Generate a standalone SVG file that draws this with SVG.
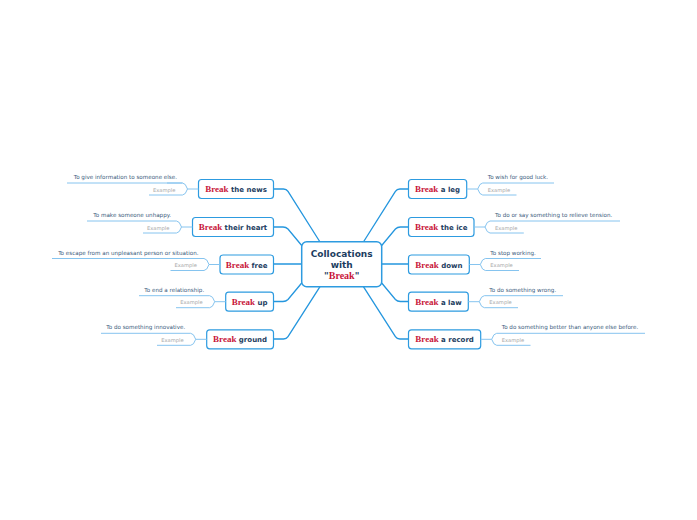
<svg xmlns="http://www.w3.org/2000/svg" width="697" height="520" viewBox="0 0 697 520">
<style>
.bg{fill:#ffffff}
.node{fill:#ffffff;stroke:#2d9be0;stroke-width:1.2}
.center{fill:#ffffff;stroke:#2d9be0;stroke-width:1.5}
.conn{fill:none;stroke:#2496de;stroke-width:1.3;stroke-linecap:round}
.leaf{fill:none;stroke:#86c4ef;stroke-width:1}
.lbl{font-family:"DejaVu Sans",Verdana,sans-serif;font-weight:bold;font-size:7px;fill:#1c3d5f}
.brk{font-family:"Liberation Serif","Times New Roman",serif;font-weight:bold;font-size:9px;fill:#c8163a}
.ctr{font-family:"DejaVu Sans",Verdana,sans-serif;font-weight:bold;font-size:9px;fill:#1c3d5f}
.cbrk{font-family:"Liberation Serif","Times New Roman",serif;font-weight:bold;font-size:10px;fill:#c8163a}
.desc{font-family:"DejaVu Sans",Verdana,sans-serif;font-size:5.6px;fill:#3a5a7c}
.ex{font-family:"DejaVu Sans",Verdana,sans-serif;font-size:5.2px;fill:#a8a8a8}
</style>
<rect class="bg" x="0" y="0" width="697" height="520"/>

<g id="connectors">
<path class="conn" d="M320,242 L288,191.3 Q286.5,189 283.5,189 H273.5"/>
<path class="conn" d="M301.7,245.5 L288,229 Q286,227 283,227 H273.5"/>
<path class="conn" d="M301.7,264 H273.5"/>
<path class="conn" d="M301.7,283 L288,299.5 Q286,301.5 283,301.5 H273.5"/>
<path class="conn" d="M320,286.7 L288,336.7 Q286.5,339 283.5,339 H273.5"/>
<path class="conn" d="M363.4,242 L395.4,191.3 Q396.9,189 399.9,189 H408.5"/>
<path class="conn" d="M381.7,245.5 L395.4,229 Q397.4,227 400.4,227 H408.5"/>
<path class="conn" d="M381.7,264 H408.5"/>
<path class="conn" d="M381.7,283 L395.4,299.5 Q397.4,301.5 400.4,301.5 H408.5"/>
<path class="conn" d="M363.4,286.7 L395.4,336.7 Q396.9,339 399.9,339 H408.5"/>
</g>

<g id="center">
<rect class="center" x="301.7" y="241.7" width="80" height="45" rx="5"/>
<text class="ctr" x="341.7" y="256.5" text-anchor="middle">Collocations</text>
<text class="ctr" x="341.7" y="267.5" text-anchor="middle">with</text>
<text class="ctr" x="341.7" y="278.5" text-anchor="middle">"<tspan class="cbrk">Break</tspan>"</text>
</g>

<!-- Left nodes -->
<g id="n-news">
<rect class="node" x="198.5" y="179.5" width="75" height="19" rx="3"/>
<text class="lbl" x="236" y="192" text-anchor="middle"><tspan class="brk">Break</tspan> the news</text>
<path class="leaf" d="M198.5,189 H187.5 M167,183 H182.5 Q185.5,183 187.5,189 Q185.5,195 182.5,195 H149"/>
<path class="leaf" d="M67,183 H182.5"/>
<text class="desc" x="177" y="179" text-anchor="end">To give information to someone else.</text>
<text class="ex" x="175.5" y="191.7" text-anchor="end">Example</text>
</g>

<g id="n-heart">
<rect class="node" x="192.5" y="217.5" width="81" height="19" rx="3"/>
<text class="lbl" x="233" y="230" text-anchor="middle"><tspan class="brk">Break</tspan> their heart</text>
<path class="leaf" d="M192.5,227 H181.5 M87,221 H176.5 Q179.5,221 181.5,227 Q179.5,233 176.5,233 H143"/>
<text class="desc" x="171" y="217" text-anchor="end">To make someone unhappy.</text>
<text class="ex" x="169.5" y="229.7" text-anchor="end">Example</text>
</g>

<g id="n-free">
<rect class="node" x="220" y="255" width="53.5" height="19" rx="3"/>
<text class="lbl" x="246.7" y="267.5" text-anchor="middle"><tspan class="brk">Break</tspan> free</text>
<path class="leaf" d="M220,264.5 H209 M52,258.5 H204 Q207,258.5 209,264.5 Q207,270.5 204,270.5 H170.5"/>
<text class="desc" x="198.5" y="254.5" text-anchor="end">To escape from an unpleasant person or situation.</text>
<text class="ex" x="197" y="267.2" text-anchor="end">Example</text>
</g>

<g id="n-up">
<rect class="node" x="225.7" y="292.2" width="47.8" height="19" rx="3"/>
<text class="lbl" x="249.6" y="304.7" text-anchor="middle"><tspan class="brk">Break</tspan> up</text>
<path class="leaf" d="M225.7,301.7 H214.7 M139,295.7 H209.7 Q212.7,295.7 214.7,301.7 Q212.7,307.7 209.7,307.7 H176"/>
<text class="desc" x="204.2" y="291.7" text-anchor="end">To end a relationship.</text>
<text class="ex" x="202.7" y="304.4" text-anchor="end">Example</text>
</g>

<g id="n-ground">
<rect class="node" x="206.7" y="329.8" width="66.8" height="19" rx="3"/>
<text class="lbl" x="240.1" y="342.3" text-anchor="middle"><tspan class="brk">Break</tspan> ground</text>
<path class="leaf" d="M206.7,339.3 H195.7 M101,333.3 H190.7 Q193.7,333.3 195.7,339.3 Q193.7,345.3 190.7,345.3 H157"/>
<text class="desc" x="185.2" y="329.3" text-anchor="end">To do something innovative.</text>
<text class="ex" x="183.7" y="342" text-anchor="end">Example</text>
</g>

<!-- Right nodes -->
<g id="n-leg">
<rect class="node" x="408.5" y="179.5" width="58.2" height="19" rx="3"/>
<text class="lbl" x="437.6" y="192" text-anchor="middle"><tspan class="brk">Break</tspan> a leg</text>
<path class="leaf" d="M466.7,189 H477.7 M554,183 H482.7 Q479.7,183 477.7,189 Q479.7,195 482.7,195 H516.5"/>
<text class="desc" x="487.7" y="179" text-anchor="start">To wish for good luck.</text>
<text class="ex" x="487.7" y="191.7" text-anchor="start">Example</text>
</g>

<g id="n-ice">
<rect class="node" x="408.5" y="217.5" width="65.5" height="19" rx="3"/>
<text class="lbl" x="441.2" y="230" text-anchor="middle"><tspan class="brk">Break</tspan> the ice</text>
<path class="leaf" d="M474,227 H485 M620,221 H490 Q487,221 485,227 Q487,233 490,233 H523.8"/>
<text class="desc" x="495" y="217" text-anchor="start">To do or say something to relieve tension.</text>
<text class="ex" x="495" y="229.7" text-anchor="start">Example</text>
</g>

<g id="n-down">
<rect class="node" x="408.5" y="255" width="60.8" height="19" rx="3"/>
<text class="lbl" x="438.9" y="267.5" text-anchor="middle"><tspan class="brk">Break</tspan> down</text>
<path class="leaf" d="M469.3,264.5 H480.3 M541,258.5 H485.3 Q482.3,258.5 480.3,264.5 Q482.3,270.5 485.3,270.5 H519"/>
<text class="desc" x="490.3" y="254.5" text-anchor="start">To stop working.</text>
<text class="ex" x="490.3" y="267.2" text-anchor="start">Example</text>
</g>

<g id="n-law">
<rect class="node" x="408.5" y="292.2" width="59.8" height="19" rx="3"/>
<text class="lbl" x="438.4" y="304.7" text-anchor="middle"><tspan class="brk">Break</tspan> a law</text>
<path class="leaf" d="M468.3,301.7 H479.3 M563,295.7 H484.3 Q481.3,295.7 479.3,301.7 Q481.3,307.7 484.3,307.7 H518"/>
<text class="desc" x="489.3" y="291.7" text-anchor="start">To do something wrong.</text>
<text class="ex" x="489.3" y="304.4" text-anchor="start">Example</text>
</g>

<g id="n-record">
<rect class="node" x="408.5" y="329.8" width="72.2" height="19" rx="3"/>
<text class="lbl" x="444.6" y="342.3" text-anchor="middle"><tspan class="brk">Break</tspan> a record</text>
<path class="leaf" d="M480.7,339.3 H491.7 M645,333.3 H496.7 Q493.7,333.3 491.7,339.3 Q493.7,345.3 496.7,345.3 H530.5"/>
<text class="desc" x="501.7" y="329.3" text-anchor="start">To do something better than anyone else before.</text>
<text class="ex" x="501.7" y="342" text-anchor="start">Example</text>
</g>
</svg>
